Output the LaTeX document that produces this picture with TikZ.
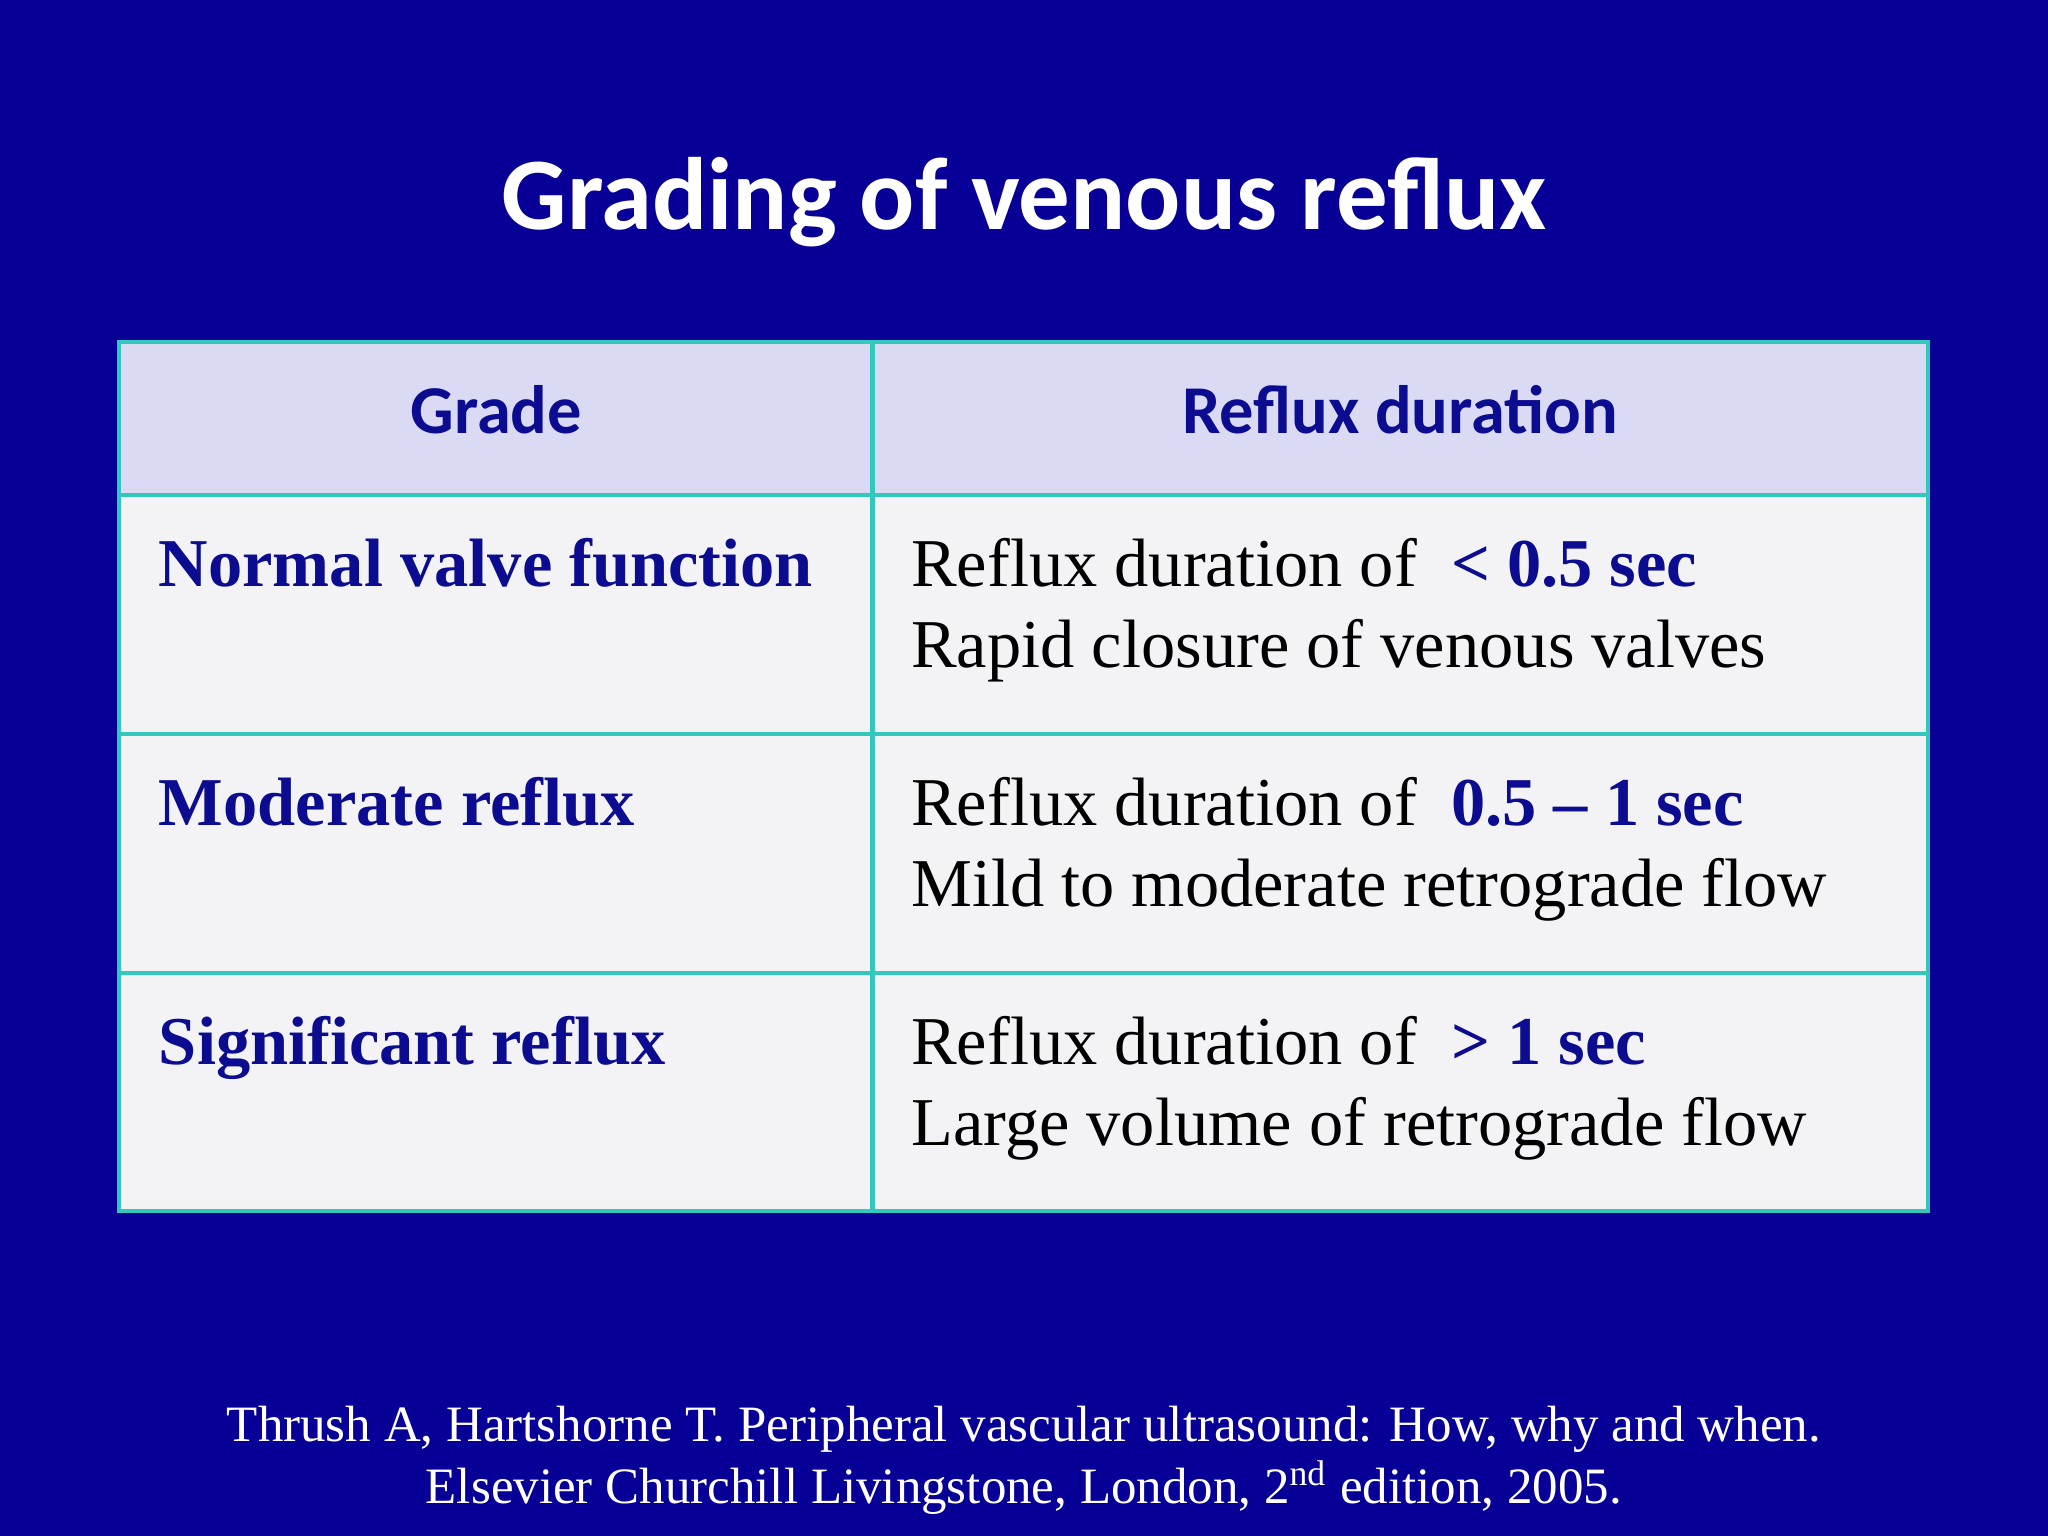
\documentclass[tikz,border=0pt]{standalone}
\usepackage{fontspec}
\setmainfont{Liberation Serif}
\newfontfamily\calib{Carlito}
\definecolor{bg}{RGB}{8,0,150}
\definecolor{hdr}{RGB}{218,218,245}
\definecolor{cell}{RGB}{243,243,245}
\definecolor{edge}{RGB}{50,200,190}
\definecolor{dblue}{RGB}{12,12,145}
\tikzset{
  lab/.style={anchor=base west,inner sep=0pt,font=\fontsize{14.9}{18}\selectfont\bfseries,text=dblue},
  txt/.style={anchor=base west,inner sep=0pt,font=\fontsize{14.9}{18}\selectfont,text=black},
  hd/.style={inner sep=0pt,font=\calib\bfseries\fontsize{14.9}{18}\selectfont,text=dblue},
}
\begin{document}
\begin{tikzpicture}[x=0.01cm,y=-0.01cm]
\fill[bg] (0,0) rectangle (1568,1176);
\node[font=\calib\bfseries\fontsize{22.4}{26}\selectfont,text=white] (title) at (784,155) {Grading of venous reflux};
\fill[hdr] (91,262) rectangle (1476,379);
\fill[cell] (91,379) rectangle (1476,927);
\draw[edge,line width=0.9pt] (91,262) rectangle (1476,927);
\foreach \y in {379,562,745} \draw[edge,line width=0.9pt] (91,\y) -- (1476,\y);
\draw[edge,line width=0.9pt] (668,262) -- (668,927);
\node[hd] (h1) at (380,314) {Grade};
\node[hd] (h2) at (1072,314) {Reflux duration};
\node[lab] (g1) at (121,449) {Normal valve function};
\node[lab] (g2) at (121,632) {Moderate reflux};
\node[lab] (g3) at (121,815) {Significant reflux};
\node[txt] (d1) at (697,449) {Reflux duration of \ \textbf{\textcolor{dblue}{< 0.5 sec}}};
\node[txt] (e1) at (697,511) {Rapid closure of venous valves};
\node[txt] (d2) at (697,632) {Reflux duration of \ \textbf{\textcolor{dblue}{0.5 – 1 sec}}};
\node[txt] (e2) at (697,694) {Mild to moderate retrograde flow};
\node[txt] (d3) at (697,815) {Reflux duration of \ \textbf{\textcolor{dblue}{> 1 sec}}};
\node[txt] (e3) at (697,877) {Large volume of retrograde flow};
\node[anchor=base,inner sep=0pt,text=white,font=\fontsize{11.1}{13}\selectfont] (f1) at (784,1104) {Thrush A, Hartshorne T. Peripheral vascular ultrasound: How, why and when.};
\node[anchor=base,inner sep=0pt,text=white,font=\fontsize{11.1}{13}\selectfont] (f2) at (784,1151) {Elsevier Churchill Livingstone, London, 2\textsuperscript{nd} edition, 2005.};
\end{tikzpicture}
\end{document}
